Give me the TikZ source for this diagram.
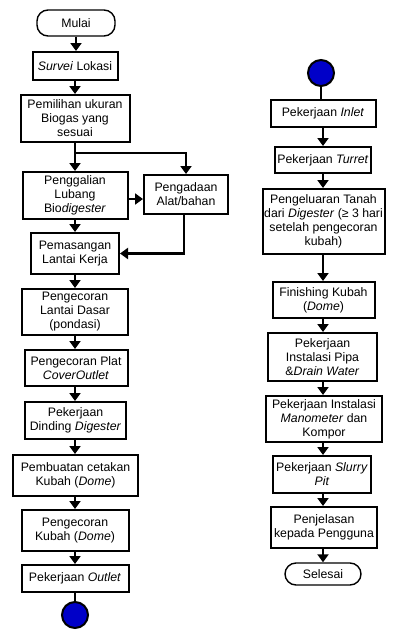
\documentclass[tikz,border=0pt]{standalone}
\usepackage{fontspec}
\setmainfont{Liberation Sans}
\usetikzlibrary{arrows.meta}
\definecolor{dotblue}{RGB}{0,0,200}
\begin{document}
\begin{tikzpicture}[x=1pt,y=-1pt,
  box/.style={draw,line width=2pt,align=center,inner sep=1pt,font=\fontsize{12.3}{14}\selectfont},
  term/.style={draw,line width=1.4pt,rounded corners=11pt,align=center,font=\fontsize{12.3}{14}\selectfont},
  dot/.style={draw,line width=2pt,circle,fill=dotblue,minimum size=26pt,inner sep=0pt},
  arr/.style={line width=2.4pt,-{Triangle[width=11pt,length=8pt]}},
  ln/.style={line width=2.4pt}]
\useasboundingbox (0,0) rectangle (418,635);
% left column
\node[term,minimum width=78pt,minimum height=26pt] (mulai) at (76,23) {Mulai};
\node[box,minimum width=85pt,minimum height=28pt] (survei) at (75,66) {\textit{Survei} Lokasi};
\node[box,minimum width=109pt,minimum height=47pt] (pilih) at (75,118.5) {Pemilihan ukuran\\Biogas yang\\sesuai};
\coordinate (j) at (75,153);
\node[box,minimum width=105pt,minimum height=47pt] (gali) at (75,195.5) {Penggalian\\Lubang\\Bio\textit{digester}};
\node[box,minimum width=84pt,minimum height=39pt] (adaan) at (186,194.5) {Pengadaan\\Alat/bahan};
\node[box,minimum width=88pt,minimum height=41pt] (pasang) at (75,253.5) {Pemasangan\\Lantai Kerja};
\node[box,minimum width=106pt,minimum height=46pt] (dasar) at (75,312) {Pengecoran\\Lantai Dasar\\(pondasi)};
\node[box,minimum width=103pt,minimum height=36pt] (plat) at (76,368) {Pengecoran Plat\\\textit{CoverOutlet}};
\node[box,minimum width=101pt,minimum height=37pt] (dinding) at (75.5,420.5) {Pekerjaan\\Dinding \textit{Digester}};
\node[box,minimum width=125pt,minimum height=41pt] (cetak) at (75.5,475.5) {Pembuatan cetakan\\Kubah (\textit{Dome})};
\node[box,minimum width=107pt,minimum height=41pt] (kubah) at (75,530.5) {Pengecoran\\Kubah (\textit{Dome})};
\node[box,minimum width=107pt,minimum height=27pt] (outlet) at (75,578.5) {Pekerjaan \textit{Outlet}};
\node[dot] (dotL) at (75,615) {};
% right column
\node[dot] (dotR) at (321,73) {};
\node[box,minimum width=105pt,minimum height=27pt] (inlet) at (323,113.5) {Pekerjaan \textit{Inlet}};
\node[box,minimum width=96pt,minimum height=26pt] (turret) at (323,160) {Pekerjaan \textit{Turret}};
\node[box,minimum width=122pt,minimum height=65pt] (keluar) at (323.5,221.5) {Pengeluaran Tanah\\dari \textit{Digester} (≥ 3 hari\\setelah pengecoran\\kubah)};
\node[box,minimum width=102pt,minimum height=36pt] (finish) at (323.5,300) {Finishing Kubah\\(\textit{Dome})};
\node[box,minimum width=109pt,minimum height=48pt] (pipa) at (322.5,357) {Pekerjaan\\Instalasi Pipa\\\&\textit{Drain Water}};
\node[box,minimum width=116pt,minimum height=46pt] (mano) at (324,419) {Pekerjaan Instalasi\\\textit{Manometer} dan\\Kompor};
\node[box,minimum width=98pt,minimum height=37pt] (slurry) at (322,474.5) {Pekerjaan \textit{Slurry}\\\textit{Pit}};
\node[box,minimum width=106pt,minimum height=41pt] (jelas) at (324,527.5) {Penjelasan\\kepada Pengguna};
\node[term,minimum width=76pt,minimum height=22pt] (selesai) at (323,574) {Selesai};
% connectors left
\draw[arr] (mulai.south) -- (mulai.south |- survei.north);
\draw[arr] (survei.south) -- (survei.south |- pilih.north);
\draw[ln] (pilih.south) -- (j);
\draw[arr] (j) -- (gali.north);
\draw[arr] (j) -| (adaan.north);
\draw[arr] (gali.east |- 0,199) -- (adaan.west |- 0,199);
\draw[arr] (adaan.south -| 184,0) |- (pasang.east);
\draw[arr] (gali.south) -- (pasang.north);
\draw[arr] (pasang.south) -- (dasar.north);
\draw[arr] (dasar.south) -- (dasar.south |- plat.north);
\draw[arr] (plat.south -| 75,0) -- (75,0 |- dinding.north);
\draw[arr] (dinding.south -| 75,0) -- (75,0 |- cetak.north);
\draw[arr] (cetak.south -| 75,0) -- (75,0 |- kubah.north);
\draw[arr] (kubah.south) -- (outlet.north);
\draw[ln] (outlet.south) -- (dotL.north);
% connectors right
\draw[ln] (dotR.south) -- (dotR.south |- inlet.north);
\draw[arr] (inlet.south -| 323,0) -- (323,0 |- turret.north);
\draw[arr] (turret.south -| 323,0) -- (323,0 |- keluar.north);
\draw[arr] (keluar.south -| 323,0) -- (323,0 |- finish.north);
\draw[arr] (finish.south -| 323,0) -- (323,0 |- pipa.north);
\draw[arr] (pipa.south -| 323,0) -- (323,0 |- mano.north);
\draw[arr] (mano.south -| 323,0) -- (323,0 |- slurry.north);
\draw[arr] (slurry.south -| 323,0) -- (323,0 |- jelas.north);
\draw[arr] (jelas.south -| 323,0) -- (323,0 |- selesai.north);
\end{tikzpicture}
\end{document}
